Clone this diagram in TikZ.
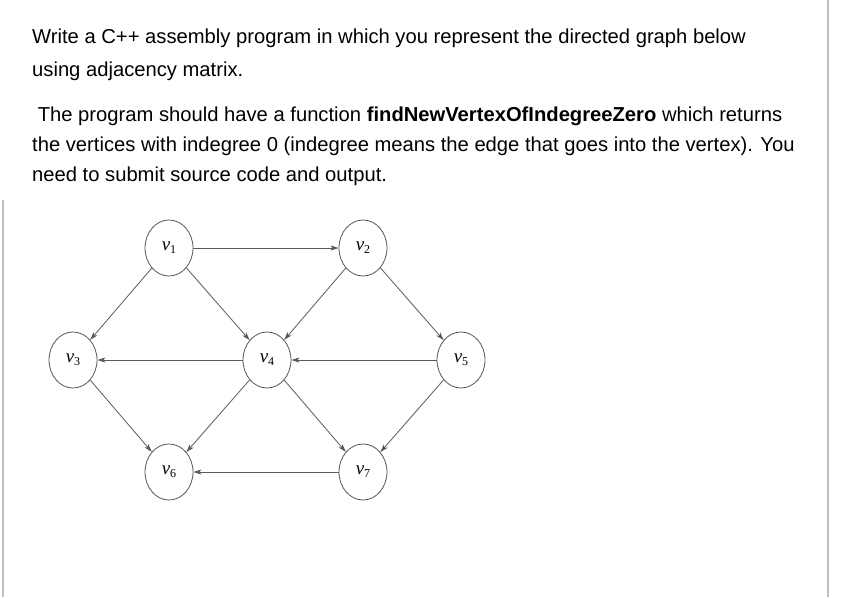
\documentclass[tikz,border=0pt]{standalone}
\usepackage{fontspec}
\setmainfont{Liberation Sans}
\newfontfamily\lblfont{Liberation Serif}
\usetikzlibrary{arrows.meta,shapes.geometric}
\newcommand{\vl}[1]{{\lblfont\itshape v\raisebox{-3pt}{\fontsize{12}{12}\selectfont\upshape #1}}}
\begin{document}
\begin{tikzpicture}[x=1pt,y=-1pt,
  vtx/.style={draw=black!65,line width=0.8pt,ellipse,minimum width=48pt,minimum height=56pt,inner sep=0pt,font=\fontsize{19}{19}\selectfont},
  edge/.style={draw=black!65,line width=0.8pt,-{Stealth[length=8pt,width=5pt,inset=2pt]}},
  txt/.style={anchor=base west,inner sep=0pt,font=\fontsize{20.2}{22}\selectfont}]
\useasboundingbox (0,0) rectangle (862,597);
\fill[white] (0,0) rectangle (862,597);
\draw[black!25,line width=1.2pt] (828,0) -- (828,597);
\draw[black!25,line width=1.2pt] (3,200) -- (3,597);
\node[txt] (t1) at (32,43) {Write a C++ assembly program in which you represent the directed graph below};
\node[txt] (t2) at (32,76) {using adjacency matrix.};
\node[txt] (t3) at (32,121) {\ The program should have a function \textbf{findNewVertexOfIndegreeZero} which returns};
\node[txt] (t4) at (32,151) {the vertices with indegree 0 (indegree means the edge that goes into the vertex). You};
\node[txt] (t5) at (32,181) {need to submit source code and output.};
\node[vtx] (v1) at (169,248) {\vl{1}};
\node[vtx] (v2) at (363,248) {\vl{2}};
\node[vtx] (v3) at (73,360) {\vl{3}};
\node[vtx] (v4) at (267,360) {\vl{4}};
\node[vtx] (v5) at (461,360) {\vl{5}};
\node[vtx] (v6) at (169,472) {\vl{6}};
\node[vtx] (v7) at (363,472) {\vl{7}};
\draw[edge] (v1) -- (v2);
\draw[edge] (v1) -- (v3);
\draw[edge] (v1) -- (v4);
\draw[edge] (v2) -- (v4);
\draw[edge] (v2) -- (v5);
\draw[edge] (v4) -- (v3);
\draw[edge] (v5) -- (v4);
\draw[edge] (v3) -- (v6);
\draw[edge] (v4) -- (v6);
\draw[edge] (v4) -- (v7);
\draw[edge] (v5) -- (v7);
\draw[edge] (v7) -- (v6);
\end{tikzpicture}
\end{document}
